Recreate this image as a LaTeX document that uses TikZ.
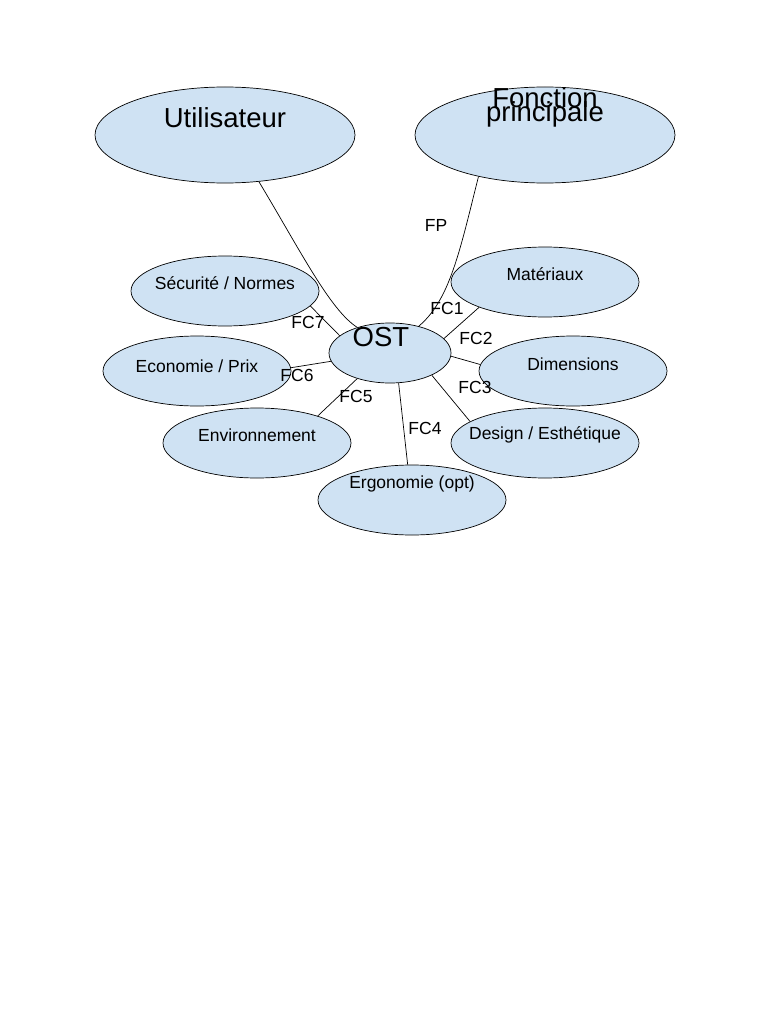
\documentclass[tikz,border=0pt]{standalone}
\usepackage{fontspec}
\setmainfont{Liberation Sans}
\usetikzlibrary{shapes.geometric}
\begin{document}
\begin{tikzpicture}[x=1pt,y=-1pt,
  ell/.style={draw=black,fill={rgb,255:red,207;green,226;blue,243},ellipse,inner sep=0pt,line width=0.7pt},
  big/.style={ell,minimum width=260pt,minimum height=96pt},
  mid/.style={ell,minimum width=188pt,minimum height=70pt},
  txt/.style={font=\fontsize{17.5}{17.5}\selectfont,inner sep=0pt},
  ttl/.style={font=\fontsize{27.5}{27.5}\selectfont,inner sep=0pt},
  lab/.style={font=\fontsize{17.5}{17.5}\selectfont,inner sep=0pt},
  con/.style={draw=black,line width=0.7pt}]
\useasboundingbox (0,0) rectangle (768,1024);
\node[big] (util) at (225,135) {};
\node[ttl] (utilt) at (225,118) {Utilisateur};
\node[big] (fp) at (545,135) {};
\node[ttl] (fpt1) at (545,98) {Fonction};
\node[ttl] (fpt2) at (545,114) {principale};
\node[mid] (sec) at (225,291) {};
\node[txt] at (225,283) {Sécurité / Normes};
\node[mid] (mat) at (545,282) {};
\node[txt] at (545,274) {Matériaux};
\node[mid] (eco) at (197,371) {};
\node[txt] at (197,366) {Economie / Prix};
\node[mid] (dim) at (573,371) {};
\node[txt] at (573,364) {Dimensions};
\node[mid] (env) at (257,443) {};
\node[txt] at (257,435) {Environnement};
\node[mid] (des) at (545,443) {};
\node[txt] at (545,435) {Design / Esthétique};
\node[mid] (erg) at (412,500) {};
\node[txt] at (412,484) {Ergonomie (opt)};
\node[ell,minimum width=122pt,minimum height=60pt] (ost) at (390,353) {};
\node[ttl] at (381,337) {OST};
\draw[con] (util.-54) .. controls (300,250) and (330,310) .. (ost.142);
\draw[con] (fp.-148) .. controls (460,250) and (450,300) .. (ost.43);
\draw[con] (mat.-159) -- (ost.15);
\draw[con] (dim.176) -- (ost.-3);
\draw[con] (des.164) -- (ost.-28);
\draw[con] (erg.97) -- (ost.-74);
\draw[con] (env.24) -- (ost.218);
\draw[con] (eco.2) -- (ost.188);
\draw[con] (sec.-10) -- (ost.161);
\node[lab] at (436,225) {FP};
\node[lab] at (447,308) {FC1};
\node[lab] at (476,338) {FC2};
\node[lab] at (475,387) {FC3};
\node[lab] at (425,428) {FC4};
\node[lab] at (356,396) {FC5};
\node[lab] at (297,375) {FC6};
\node[lab] at (308,322) {FC7};
\end{tikzpicture}
\end{document}
